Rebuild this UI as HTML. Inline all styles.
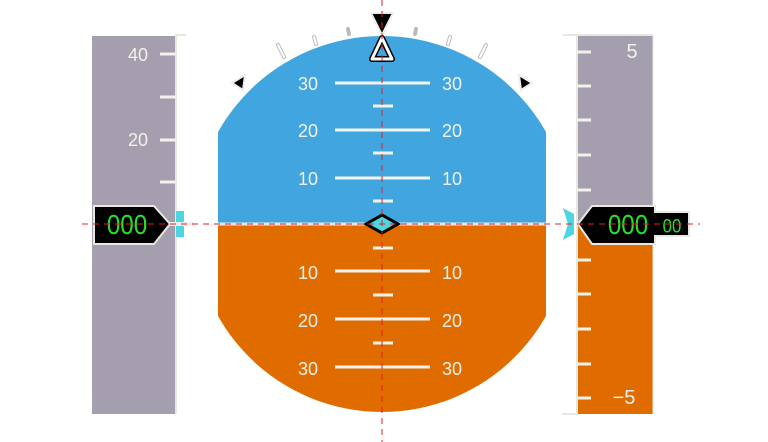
<!DOCTYPE html>
<html><head><style>html,body{margin:0;padding:0;background:#fff;}svg{display:block}</style></head><body>
<svg width="768" height="442" viewBox="0 0 768 442" xmlns="http://www.w3.org/2000/svg" font-family="Liberation Sans, DejaVu Sans, sans-serif">
<defs>
<clipPath id="c"><rect x="218" y="0" width="328" height="442"/></clipPath>
<clipPath id="c2"><circle cx="382" cy="224" r="188"/></clipPath>
</defs>
<g clip-path="url(#c)"><g clip-path="url(#c2)">
<rect x="218" y="30" width="328" height="194" fill="#41a6df"/>
<rect x="218" y="224" width="328" height="200" fill="#e06c00"/>
</g></g>
<rect x="218" y="222.5" width="328" height="3" fill="#e8e8e0"/>
<g stroke="#f2f2ea" stroke-width="3">
<line x1="335" y1="83" x2="430" y2="83"/><line x1="335" y1="130" x2="430" y2="130"/><line x1="335" y1="178" x2="430" y2="178"/>
<line x1="335" y1="271" x2="430" y2="271"/><line x1="335" y1="319" x2="430" y2="319"/><line x1="335" y1="367" x2="430" y2="367"/>
<line x1="373" y1="106" x2="393" y2="106"/><line x1="373" y1="153" x2="393" y2="153"/><line x1="373" y1="201" x2="393" y2="201"/>
<line x1="373" y1="248" x2="393" y2="248"/><line x1="373" y1="295" x2="393" y2="295"/><line x1="373" y1="343" x2="393" y2="343"/>
</g>
<g fill="#f2f2ea" font-size="18" text-anchor="middle" dominant-baseline="central">
<text x="308" y="84">30</text><text x="452" y="84">30</text>
<text x="308" y="131">20</text><text x="452" y="131">20</text>
<text x="308" y="179">10</text><text x="452" y="179">10</text>
<text x="308" y="273">10</text><text x="452" y="273">10</text>
<text x="308" y="321">20</text><text x="452" y="321">20</text>
<text x="308" y="369">30</text><text x="452" y="369">30</text>
</g>
<g stroke="#bbb" stroke-width="4" stroke-linecap="round">
<line x1="278" y1="45" x2="284" y2="57"/><line x1="486" y1="45" x2="480" y2="57"/>
<line x1="314" y1="37" x2="316" y2="44"/><line x1="450" y1="37" x2="448" y2="44"/>
<line x1="348" y1="29" x2="349" y2="34"/><line x1="416" y1="29" x2="415" y2="34"/>
</g>
<g stroke="#fff" stroke-width="2" stroke-linecap="round">
<line x1="278" y1="45" x2="284" y2="57"/><line x1="486" y1="45" x2="480" y2="57"/>
<line x1="314" y1="37" x2="316" y2="44"/><line x1="450" y1="37" x2="448" y2="44"/>
</g>
<polygon points="232,83 245,75 243,90" fill="#000" stroke="#eee" stroke-width="2"/>
<polygon points="532,83 519,75 521,90" fill="#000" stroke="#eee" stroke-width="2"/>
<polygon points="371,13 393,13 382,35" fill="#000" stroke="#eee" stroke-width="2" stroke-linejoin="round"/>
<polygon points="382,38 372,59 392,59" fill="#41a6df" stroke="#000" stroke-width="6" stroke-linejoin="round"/>
<polygon points="382,38 372,59 392,59" fill="none" stroke="#fff" stroke-width="3" stroke-linejoin="round"/>
<rect x="92" y="36" width="84" height="378" fill="#a59eae"/>
<polyline points="186,35 176,35 176,414" fill="none" stroke="#e8e8e0" stroke-width="2"/>
<g stroke="#f2f2ea" stroke-width="3">
<line x1="160" y1="54" x2="176" y2="54"/><line x1="160" y1="97" x2="176" y2="97"/><line x1="160" y1="140" x2="176" y2="140"/><line x1="160" y1="182" x2="176" y2="182"/>
</g>
<g fill="#f2f2ea" font-size="18" text-anchor="end" dominant-baseline="central">
<text x="148" y="55">40</text><text x="148" y="140">20</text></g>
<rect x="176" y="211" width="8" height="26" fill="#4dd6e0"/>
<line x1="168" y1="224" x2="194" y2="224" stroke="#eee" stroke-width="4"/>
<polygon points="94,206 154,206 170,224 154,244 94,244" fill="#000" stroke="#e8e8e0" stroke-width="2"/>
<text transform="translate(127,224) scale(1.1,1.25)" x="0" y="1" fill="#28e028" font-size="22" text-anchor="middle" dominant-baseline="central">000</text>
<rect x="577" y="35" width="76" height="189" fill="#a59eae"/>
<rect x="577" y="224" width="76" height="190" fill="#e06c00"/>
<polyline points="563,35 577,35 577,414 562,414" fill="none" stroke="#e8e8e0" stroke-width="2"/>
<line x1="577" y1="35" x2="653" y2="35" stroke="#e8e8e0" stroke-width="2"/>
<line x1="653" y1="35" x2="653" y2="414" stroke="#e8e8e0" stroke-width="1"/>
<g stroke="#f2f2ea" stroke-width="3">
<line x1="577" y1="52" x2="591" y2="52"/><line x1="577" y1="86" x2="591" y2="86"/><line x1="577" y1="120" x2="591" y2="120"/><line x1="577" y1="155" x2="591" y2="155"/><line x1="577" y1="190" x2="591" y2="190"/>
<line x1="577" y1="260" x2="591" y2="260"/><line x1="577" y1="294" x2="591" y2="294"/><line x1="577" y1="329" x2="591" y2="329"/><line x1="577" y1="364" x2="591" y2="364"/><line x1="577" y1="398" x2="591" y2="398"/>
</g>
<g fill="#f2f2ea" font-size="20" text-anchor="middle" dominant-baseline="central">
<text x="632" y="52">5</text><text x="624" y="398">−5</text></g>
<polygon points="563,208 574,214 574,234 563,240 568,224" fill="#4dd6e0"/>
<polygon points="578,224 592,206 655,206 655,212 689,212 689,236 655,236 655,244 592,244" fill="#000" stroke="#e8e8e0" stroke-width="2"/>
<text transform="translate(628,224) scale(1.1,1.25)" x="0" y="1" fill="#28e028" font-size="22" text-anchor="middle" dominant-baseline="central">000</text>
<text transform="translate(672,225) scale(1.05,1.2)" x="0" y="1" fill="#28e028" font-size="16" text-anchor="middle" dominant-baseline="central">00</text>
<polygon points="366,224 382,215 398,224 382,233" fill="#4dd6e0" stroke="#000" stroke-width="3"/>
<line x1="82" y1="224" x2="700" y2="224" stroke="#e02020" stroke-width="1" stroke-dasharray="6,5"/>
<line x1="382" y1="0" x2="382" y2="442" stroke="#e02020" stroke-width="1" stroke-dasharray="6,5"/>
</svg>
</body></html>
